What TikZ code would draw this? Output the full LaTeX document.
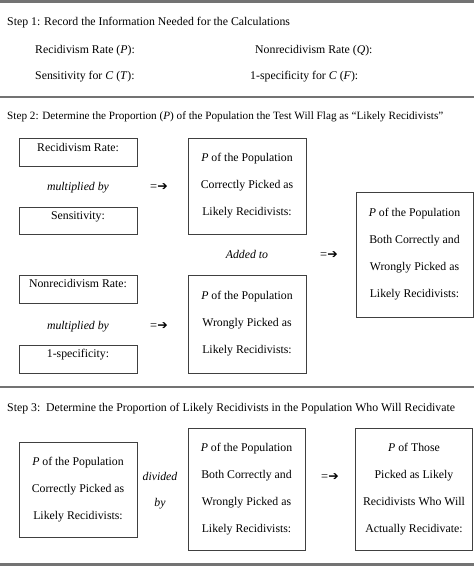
\documentclass[tikz,border=0pt]{standalone}
\usepackage{fontspec}
\setmainfont{Liberation Serif}
\newfontfamily\dejavu{DejaVu Sans}
\begin{document}
\begin{tikzpicture}[x=1pt,y=-1pt,
  font=\fontsize{11.8}{27}\selectfont,
  txt/.style={inner sep=0pt, text height=8pt, text depth=2pt},
  lbl/.style={txt, anchor=west},
  boxframe/.style={draw=black!75, line width=0.9pt, inner sep=0pt, anchor=north west},
  bigbox/.style={draw=black!75, line width=0.9pt, inner sep=0pt, align=center},
  sepline/.style={draw=black!55, line width=2.2pt},
  arr/.style={txt, font=\fontsize{12.5}{14}\selectfont}]
\useasboundingbox (0,0) rectangle (474,567);
% separators
\coordinate (s0a) at (0,1.5); \coordinate (s0b) at (474,1.5);
\coordinate (s1a) at (0,97); \coordinate (s1b) at (474,97);
\coordinate (s2a) at (0,387); \coordinate (s2b) at (474,387);
\coordinate (s3a) at (0,564.5); \coordinate (s3b) at (474,564.5);
\draw[sepline] (s0a) -- (s0b);
\draw[sepline] (s1a) -- (s1b);
\draw[sepline] (s2a) -- (s2b);
\draw[sepline] (s3a) -- (s3b);
% Step 1
\node[lbl] (st1) at (7,23) {Step 1: Record the Information Needed for the Calculations};
\node[lbl] (rr) at (35,51) {Recidivism Rate (\textit{P}):};
\node[lbl] (nr) at (255,51) {Nonrecidivism Rate (\textit{Q}):};
\node[lbl] (se) at (35,77) {Sensitivity for \textit{C} (\textit{T}):};
\node[lbl] (sp) at (250,77) {1-specificity for \textit{C} (\textit{F}):};
% Step 2
\node[lbl, font=\fontsize{11.2}{13}\selectfont] (st2) at (7,117) {Step 2: Determine the Proportion (\textit{P}) of the Population the Test Will Flag as ``Likely Recidivists''};
\node[boxframe, minimum width=118, minimum height=28] (b1) at (19,138) {};
\node[txt] (b1t) at (78,148) {Recidivism Rate:};
\node[txt] (m1) at (78,187) {\textit{multiplied by}};
\node[boxframe, minimum width=118, minimum height=27] (b2) at (19,207) {};
\node[txt] (b2t) at (78,216) {Sensitivity:};
\node[arr] (a1) at (159,187) {={\dejavu\bfseries ➔}};
\node[bigbox, minimum width=118, minimum height=96] (c1) at (247,186) {\textit{P} of the Population\\Correctly Picked as\\Likely Recidivists:};
\node[txt] (add) at (247,255) {\textit{Added to}};
\node[arr] (a2) at (329,255) {={\dejavu\bfseries ➔}};
\node[bigbox, minimum width=117, minimum height=125] (r1) at (414.5,254.5) {\textit{P} of the Population\\Both Correctly and\\Wrongly Picked as\\Likely Recidivists:};
\node[boxframe, minimum width=118, minimum height=28] (b3) at (19,275) {};
\node[txt] (b3t) at (78,284) {Nonrecidivism Rate:};
\node[txt] (m2) at (78,326) {\textit{multiplied by}};
\node[boxframe, minimum width=118, minimum height=28] (b4) at (19,345) {};
\node[txt] (b4t) at (78,354) {1-specificity:};
\node[arr] (a3) at (159,326) {={\dejavu\bfseries ➔}};
\node[bigbox, minimum width=118, minimum height=98] (c2) at (247,324) {\textit{P} of the Population\\Wrongly Picked as\\Likely Recidivists:};
% Step 3
\node[lbl] (st3) at (7,408) {Step 3:\ \ Determine the Proportion of Likely Recidivists in the Population Who Will Recidivate};
\node[bigbox, minimum width=118, minimum height=95] (d1) at (78,489.5) {\textit{P} of the Population\\Correctly Picked as\\Likely Recidivists:};
\node[txt] (dv1) at (160,477) {\textit{divided}};
\node[txt] (dv2) at (160,503) {\textit{by}};
\node[bigbox, minimum width=117, minimum height=122] (d2) at (246.5,489) {\textit{P} of the Population\\Both Correctly and\\Wrongly Picked as\\Likely Recidivists:};
\node[arr] (a4) at (330,477) {={\dejavu\bfseries ➔}};
\node[bigbox, minimum width=117, minimum height=122] (d3) at (414,489) {\textit{P} of Those\\Picked as Likely\\Recidivists Who Will\\Actually Recidivate:};
\end{tikzpicture}
\end{document}
